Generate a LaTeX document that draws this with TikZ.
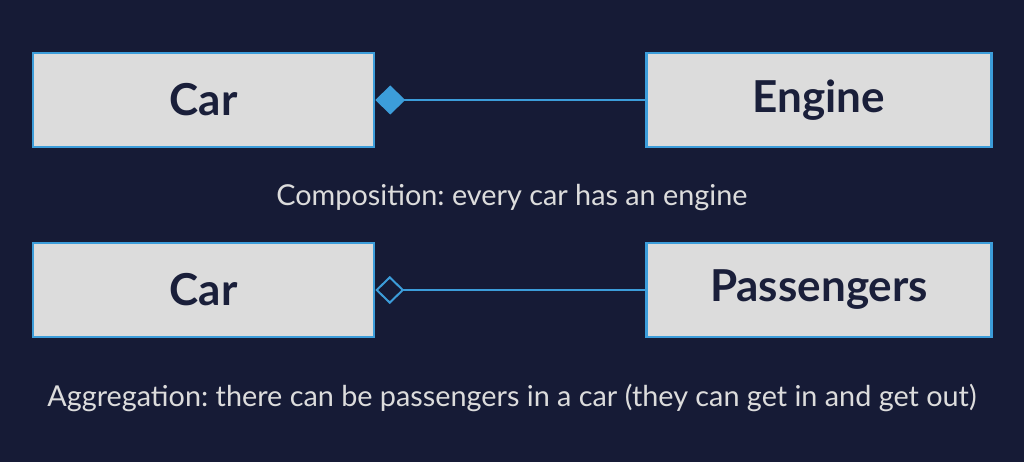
\documentclass[tikz,border=0pt]{standalone}
\usepackage{fontspec}
\setmainfont{Lato}
\usetikzlibrary{arrows.meta}
\definecolor{bg}{HTML}{161B36}
\definecolor{boxfill}{HTML}{DCDCDC}
\definecolor{edge}{HTML}{3C9DDA}
\definecolor{ink}{HTML}{1A1F3A}
\definecolor{captext}{HTML}{DCDCDC}
\frenchspacing

\begin{document}
\begin{tikzpicture}[x=1pt, y=-1pt]
  \fill[bg] (0,0) rectangle (1024,462);
  \useasboundingbox (0,0) rectangle (1024,462);

\begin{scope}[every node/.style={rectangle, draw=edge, fill=boxfill, line width=2.5pt, minimum width=341pt, minimum height=94pt, text=ink, font=\fontsize{44}{52}\selectfont\bfseries}]
  \draw node (car) at (203.5,100) {Car};
  \draw node[minimum width=345pt] (engine) at (819,100) {Engine};
  \draw node (carb) at (203.5,290) {Car};
  \draw node[minimum width=345pt] (pass) at (819,290) {Passengers};
\end{scope}

  \draw[edge, line width=2pt, {Diamond[length=30pt, width=29pt, fill=edge]}-] (car) -- (engine);
  \draw[edge, line width=2pt, {Diamond[open, length=29pt, width=28pt]}-] (carb) -- (pass);

\begin{scope}[every node/.style={text=captext, font=\fontsize{28.8}{34}\selectfont}]
  \draw node (comp) at (512,198) {Composition: every car has an engine};
  \draw node (aggr) at (512,398) {Aggregation: there can be passengers in a car (they can get in and get out)};
\end{scope}
\end{tikzpicture}
\end{document}
